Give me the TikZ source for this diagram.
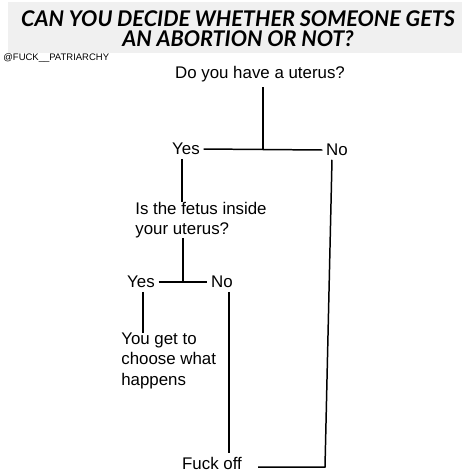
\documentclass[tikz,border=0pt]{standalone}
\usepackage{fontspec}
\setmainfont{Liberation Sans}
\IfFontExistsTF{Lato Black}{\newfontfamily\titlefont{Lato Black}}{\newfontfamily\titlefont{Lato}}
\usetikzlibrary{positioning}

\tikzset{
	txt/.style={font=\fontsize{9.6}{11.4}\selectfont, inner sep=0pt, align=left},
	ans/.style={txt, inner sep=2pt},
	ln/.style={line width=0.85pt}
}

\begin{document}
\begin{tikzpicture}[x=0.02cm,y=-0.02cm]
	\useasboundingbox (0,0) rectangle (474,474);
	%\draw[help lines] (0,0) grid[step=50] (474,474);
	\fill[black!6] (8,2) rectangle (462,53);
	\node[font=\titlefont\bfseries\itshape\fontsize{12.3}{11.3}\selectfont, align=center] (title) at (238,29) {CAN YOU DECIDE WHETHER SOMEONE GETS\\AN ABORTION OR NOT?};
	\node[anchor=west, inner sep=0pt, font=\fontsize{5.4}{6}\selectfont] (handle) at (3,58) {@FUCK\_\_PATRIARCHY};

	% questions and answers
	\node[txt] (q1) at (260,74) {Do you have a uterus?};
	\coordinate (j1) at (263,149);
	\node[ans] (yes1) at (186,149) {Yes};
	\node[ans] (no1) at (337,150) {No};
	\node[txt, anchor=north west] (q2) at (135,202) {Is the fetus inside\\your uterus?};
	\coordinate (j2) at (183,282);
	\node[ans] (yes2) at (141,282) {Yes};
	\node[ans] (no2) at (222,282) {No};
	\node[txt, anchor=north west] (choose) at (121,333) {You get to\\choose what\\happens};
	\node[ans] (off) at (212,463) {Fuck off};
	\coordinate (c1) at (325,467);
	\coordinate (c2) at (258,467);

	% lines
	\draw[ln] ([yshift=-0.1cm]j1 |- q1.south) -- (j1);
	\draw[ln] (yes1.east) -- (no1.west);
	\draw[ln] ([xshift=-0.08cm]yes1.south) -- ([xshift=-0.08cm]yes1.south |- q2.north);
	\draw[ln] (j2 |- q2.south) -- (j2);
	\draw[ln] (yes2.east) -- (no2.west);
	\draw[ln] ([xshift=0.04cm]yes2.south) -- ([xshift=0.04cm]yes2.south |- choose.north);
	\draw[ln] ([xshift=0.14cm]no2.south) -- ([xshift=0.14cm]no2.south |- off.north);
	\draw[ln] ([xshift=-0.1cm]no1.south) -- (c1) -- (c2);
\end{tikzpicture}
\end{document}
